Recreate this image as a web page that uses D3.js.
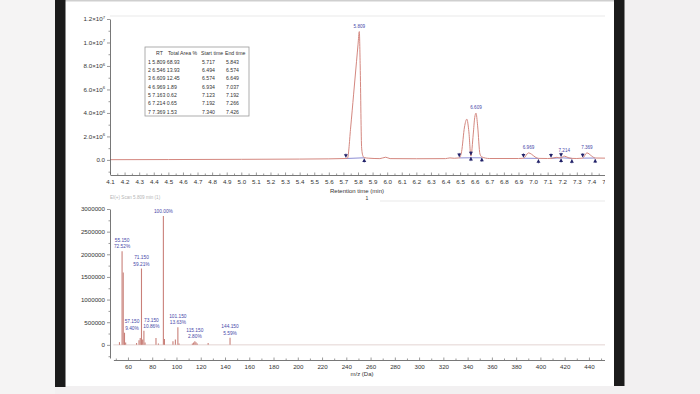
<!DOCTYPE html>
<html><head><meta charset="utf-8">
<script src="https://cdn.jsdelivr.net/npm/d3@7"></script>
<style>
html,body{margin:0;padding:0;background:#f2f0f1;}
svg{display:block;font-family:"Liberation Sans",Arial,sans-serif;}
</style>
</head><body>
<svg id="c" width="700" height="394"></svg>
<script>
// ---------- DATA ----------
// chromatogram (retention time in min, intensity in counts)
const rtTimes = [4.10, 4.50, 5.00, 5.40, 5.60, 5.717, 5.728, 5.75, 5.77, 5.79, 5.80, 5.809, 5.815, 5.825, 5.835, 5.843, 5.87, 5.95, 5.99, 6.02, 6.20, 6.40, 6.43, 6.46, 6.494, 6.51, 6.53, 6.546, 6.56, 6.574, 6.59, 6.60, 6.609, 6.62, 6.636, 6.649, 6.70, 6.90, 6.934, 6.969, 6.99, 7.02, 7.037, 7.10, 7.123, 7.163, 7.18, 7.192, 7.214, 7.24, 7.266, 7.30, 7.340, 7.369, 7.40, 7.426, 7.50];
const rtIntensity = [20000, 30000, 50000, 70000, 90000, 120000, 150000, 2800000, 5600000, 8400000, 9800000, 10930000, 8000000, 1000000, 300000, 200000, 150000, 110000, 230000, 110000, 100000, 110000, 170000, 140000, 170000, 700000, 2800000, 3470000, 2400000, 320000, 2200000, 3600000, 3980000, 2900000, 500000, 250000, 120000, 120000, 140000, 600000, 480000, 200000, 130000, 120000, 130000, 220000, 170000, 190000, 320000, 200000, 130000, 120000, 150000, 600000, 350000, 160000, 150000];
const rtTickValues = [4.1,4.2,4.3,4.4,4.5,4.6,4.7,4.8,4.9,5.0,5.1,5.2,5.3,5.4,5.5,5.6,5.7,5.8,5.9,6.0,6.1,6.2,6.3,6.4,6.5,6.6,6.7,6.8,6.9,7.0,7.1,7.2,7.3,7.4,7.5];
const yTopTicks = [0, 2000000, 4000000, 6000000, 8000000, 10000000, 12000000];

// peak table
const peakNo    = [1, 2, 3, 4, 5, 6, 7];
const peakRT    = ["5.809", "6.546", "6.609", "6.969", "7.163", "7.214", "7.369"];
const peakArea  = ["68.93", "13.93", "12.45", "1.89", "0.62", "0.65", "1.53"];
const peakStart = ["5.717", "6.494", "6.574", "6.934", "7.123", "7.192", "7.340"];
const peakEnd   = ["5.843", "6.574", "6.649", "7.037", "7.192", "7.266", "7.426"];
const labeledRT = ["5.809", "6.609", "6.969", "7.214", "7.369"];

// mass spectrum
const mzValues    = [53.0, 55.15, 56.1, 57.15, 58.1, 67.1, 69.1, 70.1, 71.15, 72.1, 73.15, 74.1, 83.1, 85.1, 89.2, 90.1, 97.1, 99.1, 101.15, 102.1, 113.1, 114.1, 115.15, 116.1, 117.1, 126.1, 144.15];
const mzIntensity = [60000, 2065000, 1600000, 268000, 50000, 40000, 100000, 150000, 1686000, 120000, 309000, 50000, 150000, 30000, 2848000, 130000, 80000, 120000, 388000, 30000, 30000, 50000, 80000, 60000, 30000, 40000, 159000];
const mzLabelMz   = [89.2, 55.15, 71.15, 57.15, 73.15, 101.15, 115.15, 144.15];
const mzLabelName = ["", "55.150", "71.150", "57.150", "73.150", "101.150", "115.150", "144.150"];
const mzLabelPct  = ["100.00%", "72.52%", "59.21%", "9.40%", "10.86%", "13.63%", "2.80%", "5.59%"];
const msYTicks = [0, 500000, 1000000, 1500000, 2000000, 2500000, 3000000];
const mzTicks  = [60, 80, 100, 120, 140, 160, 180, 200, 220, 240, 260, 280, 300, 320, 340, 360, 380, 400, 420, 440];

// ---------- STYLE ----------
const TRACE = "#d4877f", BAR = "#c98079", ANNOT = "#4848a8", AXIS = "#555", TXT = "#333";
const svg = d3.select("#c");

// page frame
svg.append("rect").attr("x",0).attr("y",0).attr("width",55).attr("height",394).attr("fill","#f5f4f4");
svg.append("rect").attr("x",65).attr("y",0).attr("width",549).attr("height",386).attr("fill","#fff");
svg.append("rect").attr("x",65).attr("y",0).attr("width",549).attr("height",1.5).attr("fill","#cfcfcf");
svg.append("rect").attr("x",55).attr("y",0).attr("width",10.5).attr("height",387).attr("fill","#1b1b1b");
svg.append("rect").attr("x",614).attr("y",0).attr("width",10.5).attr("height",386).attr("fill","#1b1b1b");

const defs = svg.append("defs");
defs.append("clipPath").attr("id","clipR").append("rect").attr("x",0).attr("y",0).attr("width",605).attr("height",394);

// ---------- TOP: chromatogram ----------
const xT = d3.scaleLinear().domain([4.1, 7.5]).range([110, 606]);
const yT = d3.scaleLinear().domain([-1200000, 12000000]).range([174, 19]);

svg.append("line").attr("x1",110).attr("x2",605).attr("y1",16).attr("y2",16).attr("stroke","#e3e3e3").attr("stroke-width",0.8);

const gTop = svg.append("g").attr("clip-path","url(#clipR)");

// y axis
const yAxT = svg.append("g").attr("transform","translate(110,0)")
  .call(d3.axisLeft(yT).tickValues(yTopTicks).tickSize(3).tickSizeOuter(0).tickPadding(2));
svg.append("g").attr("transform","translate(110,0)")
  .call(d3.axisLeft(yT).tickValues([1e6,3e6,5e6,7e6,9e6,1.1e7,-1e6]).tickSize(1.5).tickFormat(""))
  .call(g=>g.select(".domain").remove());
yAxT.selectAll("text").each(function(d){
  const t = d3.select(this); t.text("");
  if (d === 0) { t.text("0.0"); return; }
  const e = Math.floor(Math.log10(d)); const m = d / Math.pow(10, e);
  t.append("tspan").text(m.toFixed(1) + "×10");
  t.append("tspan").attr("dy", -2.5).attr("font-size", 4.2).text(e);
});

// x axis
gTop.append("g").attr("transform","translate(0,175)")
  .call(d3.axisBottom(xT).tickValues(rtTickValues).tickSize(-2.5).tickSizeOuter(0).tickPadding(5).tickFormat(d3.format(".1f")));
gTop.append("g").attr("transform","translate(0,175)")
  .call(d3.axisBottom(xT).tickValues(rtTickValues.map(v=>v+0.05)).tickSize(-1.5).tickFormat(""))
  .call(g=>g.select(".domain").remove());

svg.append("text").attr("x",357).attr("y",193).attr("text-anchor","middle").attr("font-size",6).attr("fill",TXT).text("Retention time (min)");
svg.append("text").attr("x",367).attr("y",200).attr("text-anchor","middle").attr("font-size",5).attr("fill",TXT).text("1");
svg.append("text").attr("x",110).attr("y",198.5).attr("font-size",4.6).attr("fill","#b5b5b5").text("EI(+) Scan 5.809 min (1)");

// trace
const pts = rtTimes.map((t,i)=>[t, rtIntensity[i]]);
const valAt = t => {
  const i = d3.bisector(d=>d[0]).left(pts, t);
  if (i <= 0) return pts[0][1];
  if (i >= pts.length) return pts[pts.length-1][1];
  const a = pts[i-1], b = pts[i];
  return a[1] + (b[1]-a[1]) * (t - a[0]) / (b[0]-a[0]);
};
// baseline segments under peaks
peakStart.forEach((s,i)=>{
  const t0 = +s, t1 = +peakEnd[i];
  gTop.append("line").attr("x1",xT(t0)).attr("x2",xT(t1))
    .attr("y1",yT(Math.min(valAt(t0),180000))).attr("y2",yT(Math.min(valAt(t1),180000)))
    .attr("stroke","#5b5bc0").attr("stroke-width",0.7);
});
gTop.append("path").datum(pts)
  .attr("d", d3.line().x(d=>xT(d[0])).y(d=>yT(d[1])).curve(d3.curveMonotoneX))
  .attr("fill","none").attr("stroke",TRACE).attr("stroke-width",1);

// markers
const tri = d3.symbol().type(d3.symbolTriangle).size(7);
peakStart.forEach(s=>{
  const t = +s, y = yT(valAt(t));
  gTop.append("path").attr("d",tri()).attr("transform",`translate(${xT(t)},${y-3.2}) rotate(180)`).attr("fill","#23236a");
  gTop.append("line").attr("x1",xT(t)).attr("x2",xT(t)).attr("y1",y-5).attr("y2",y-1).attr("stroke","#23236a").attr("stroke-width",0.6);
});
peakEnd.forEach(s=>{
  const t = +s, y = yT(valAt(t));
  gTop.append("path").attr("d",tri()).attr("transform",`translate(${xT(t)},${y+3.2})`).attr("fill","#23236a");
  gTop.append("line").attr("x1",xT(t)).attr("x2",xT(t)).attr("y1",y+1).attr("y2",y+5).attr("stroke","#23236a").attr("stroke-width",0.6);
});

// peak labels
labeledRT.forEach(r=>{
  const t = +r;
  const near = pts.filter(p=>Math.abs(p[0]-t) < 0.03);
  const top = d3.max(near, p=>p[1]);
  gTop.append("text").attr("x",xT(t)).attr("y",yT(top)-4).attr("text-anchor","middle")
    .attr("font-size",4.6).attr("fill",ANNOT).text(r);
});

// table
const tb = svg.append("g");
tb.append("rect").attr("x",145).attr("y",47).attr("width",104).attr("height",69).attr("fill","#fff").attr("stroke","#9a9a9a").attr("stroke-width",0.8);
const hdr = [["RT",156],["Total Area %",168],["Start time",201],["End time",225]];
hdr.forEach(h=>tb.append("text").attr("x",h[1]).attr("y",55).attr("font-size",5.2).attr("fill",TXT).text(h[0]));
peakNo.forEach((n,i)=>{
  const y = 63.7 + i*8.33;
  tb.append("text").attr("x",148).attr("y",y).attr("font-size",5.2).attr("fill",TXT).text(`${n} ${peakRT[i]} ${peakArea[i]}`);
  tb.append("text").attr("x",202).attr("y",y).attr("font-size",5.2).attr("fill",TXT).text(peakStart[i]);
  tb.append("text").attr("x",226).attr("y",y).attr("font-size",5.2).attr("fill",TXT).text(peakEnd[i]);
});

// ---------- BOTTOM: mass spectrum ----------
const xB = d3.scaleLinear().domain([48, 453.5]).range([113.4, 605.3]);
const yB = d3.scaleLinear().domain([-290000, 3000000]).range([358, 209]);

svg.append("line").attr("x1",380).attr("x2",605).attr("y1",201).attr("y2",201).attr("stroke","#e3e3e3").attr("stroke-width",0.8);

svg.append("g").attr("transform","translate(110,0)")
  .call(d3.axisLeft(yB).tickValues(msYTicks).tickSize(3).tickSizeOuter(0).tickPadding(2).tickFormat(d3.format("d")));
svg.append("g").attr("transform","translate(110,0)")
  .call(d3.axisLeft(yB).tickValues([250000,750000,1250000,1750000,2250000,2750000,-250000]).tickSize(1.5).tickFormat(""))
  .call(g=>g.select(".domain").remove());

const gBot = svg.append("g").attr("clip-path","url(#clipR)");
gBot.append("g").attr("transform","translate(0,360)")
  .call(d3.axisBottom(xB).tickValues(mzTicks).tickSize(-2.5).tickSizeOuter(0).tickPadding(4.5).tickFormat(d3.format("d")));
gBot.append("g").attr("transform","translate(0,360)")
  .call(d3.axisBottom(xB).tickValues([50].concat(mzTicks.map(v=>v+10))).tickSize(-1.5).tickFormat(""))
  .call(g=>g.select(".domain").remove());
svg.append("text").attr("x",362).attr("y",376).attr("text-anchor","middle").attr("font-size",6).attr("fill",TXT).text("m/z (Da)");

// zero line
gBot.append("line").attr("x1",xB(48)).attr("x2",605).attr("y1",yB(0)).attr("y2",yB(0)).attr("stroke","#dcc9c8").attr("stroke-width",0.8);
// bars
gBot.selectAll("line.bar").data(mzValues).enter().append("line").attr("class","bar")
  .attr("x1",d=>xB(d)).attr("x2",d=>xB(d))
  .attr("y1",yB(0)).attr("y2",(d,i)=>yB(mzIntensity[i]))
  .attr("stroke",BAR).attr("stroke-width",1.1);

// annotations
const labelShift = {57.15: 7.5, 73.15: 7.5};
mzLabelMz.forEach((m,i)=>{
  const idx = mzValues.indexOf(m);
  const top = yB(mzIntensity[idx]);
  const x = xB(m) + (labelShift[m] || 0);
  gBot.append("text").attr("x",x).attr("y",top-3).attr("text-anchor","middle").attr("font-size",4.8).attr("fill",ANNOT).text(mzLabelPct[i]);
  if (mzLabelName[i]) gBot.append("text").attr("x",x).attr("y",top-9.3).attr("text-anchor","middle").attr("font-size",4.8).attr("fill",ANNOT).text(mzLabelName[i]);
});

// axis styling
svg.selectAll(".domain").attr("stroke",AXIS).attr("stroke-width",0.8);
svg.selectAll(".tick line").attr("stroke",AXIS).attr("stroke-width",0.6);
svg.selectAll(".tick text").attr("fill",TXT).attr("font-size",6.2).attr("font-family","Liberation Sans, Arial, sans-serif");
</script>
</body></html>
